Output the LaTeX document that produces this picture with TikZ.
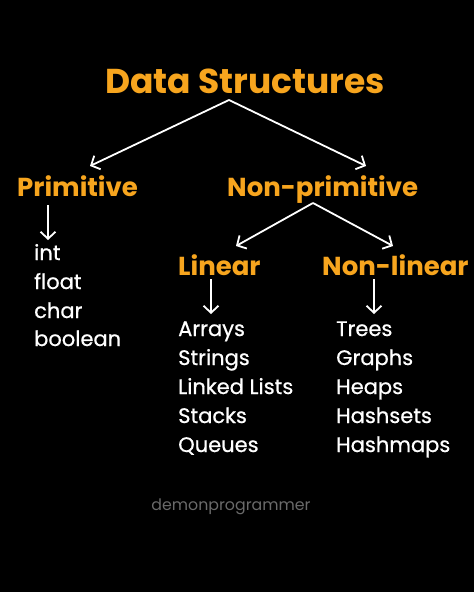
\documentclass[tikz,border=0pt]{standalone}
\usepackage{fontspec}
\setmainfont{Poppins}
\newfontfamily\itemfont{Poppins}[FakeBold=0.6]
\usetikzlibrary{arrows.meta}
\definecolor{dsorange}{HTML}{F7A51E}
\definecolor{dsgray}{HTML}{6A6A6A}
\begin{document}
\begin{tikzpicture}[x=1pt,y=-1pt,
  title/.style={text=dsorange,font=\fontsize{34.5}{38}\selectfont\bfseries,inner sep=0pt,anchor=base},
  head/.style={text=dsorange,font=\fontsize{26}{30}\selectfont\bfseries,inner sep=0pt,anchor=base west},
  item/.style={text=white,font=\itemfont\fontsize{21}{24}\selectfont,inner sep=0pt,anchor=base west},
  conn/.style={draw=white,line width=1.8pt,-{Straight Barb[length=7pt,width=15pt,line width=1.8pt]}},
  wmark/.style={text=dsgray,font=\fontsize{15.8}{18}\selectfont,inner sep=0pt,anchor=base}]
\useasboundingbox[fill=black] (0,0) rectangle (474,592);
\node[title] (ds) at (245,93) {Data Structures};
\node[head] (prim) at (17,196) {Primitive};
\node[head] (nprim) at (227,196) {Non-primitive};
\node[head] (lin) at (178,275) {Linear};
\node[head] (nlin) at (322,275) {Non-linear};
\coordinate (dsa) at (229,100);
\coordinate (npa) at (313,203);
\coordinate (pt) at (90,166);
\coordinate (npt) at (366,166);
\coordinate (lt) at (236,246);
\coordinate (nlt) at (393,246);
\draw[conn] (dsa) -- (pt);
\draw[conn] (dsa) -- (npt);
\draw[conn] (npa) -- (lt);
\draw[conn] (npa) -- (nlt);
\coordinate (p0) at (48,205);
\coordinate (p1) at (48,240);
\draw[conn] (p0) -- (p1);
\coordinate (l0) at (211,279);
\coordinate (l1) at (211,314);
\draw[conn] (l0) -- (l1);
\coordinate (n0) at (374,279);
\coordinate (n1) at (374,314);
\draw[conn] (n0) -- (n1);
\node[item] (i1) at (34,260) {int};
\node[item] (i2) at (34,289) {float};
\node[item] (i3) at (34,318) {char};
\node[item] (i4) at (34,346) {boolean};
\node[item] (a1) at (178,336) {Arrays};
\node[item] (a2) at (178,365) {Strings};
\node[item] (a3) at (178,394) {Linked Lists};
\node[item] (a4) at (178,423) {Stacks};
\node[item] (a5) at (178,452) {Queues};
\node[item] (b1) at (336,336) {Trees};
\node[item] (b2) at (336,365) {Graphs};
\node[item] (b3) at (336,394) {Heaps};
\node[item] (b4) at (336,423) {Hashsets};
\node[item] (b5) at (336,452) {Hashmaps};
\node[wmark] (wm) at (231,510) {demonprogrammer};
\end{tikzpicture}
\end{document}
